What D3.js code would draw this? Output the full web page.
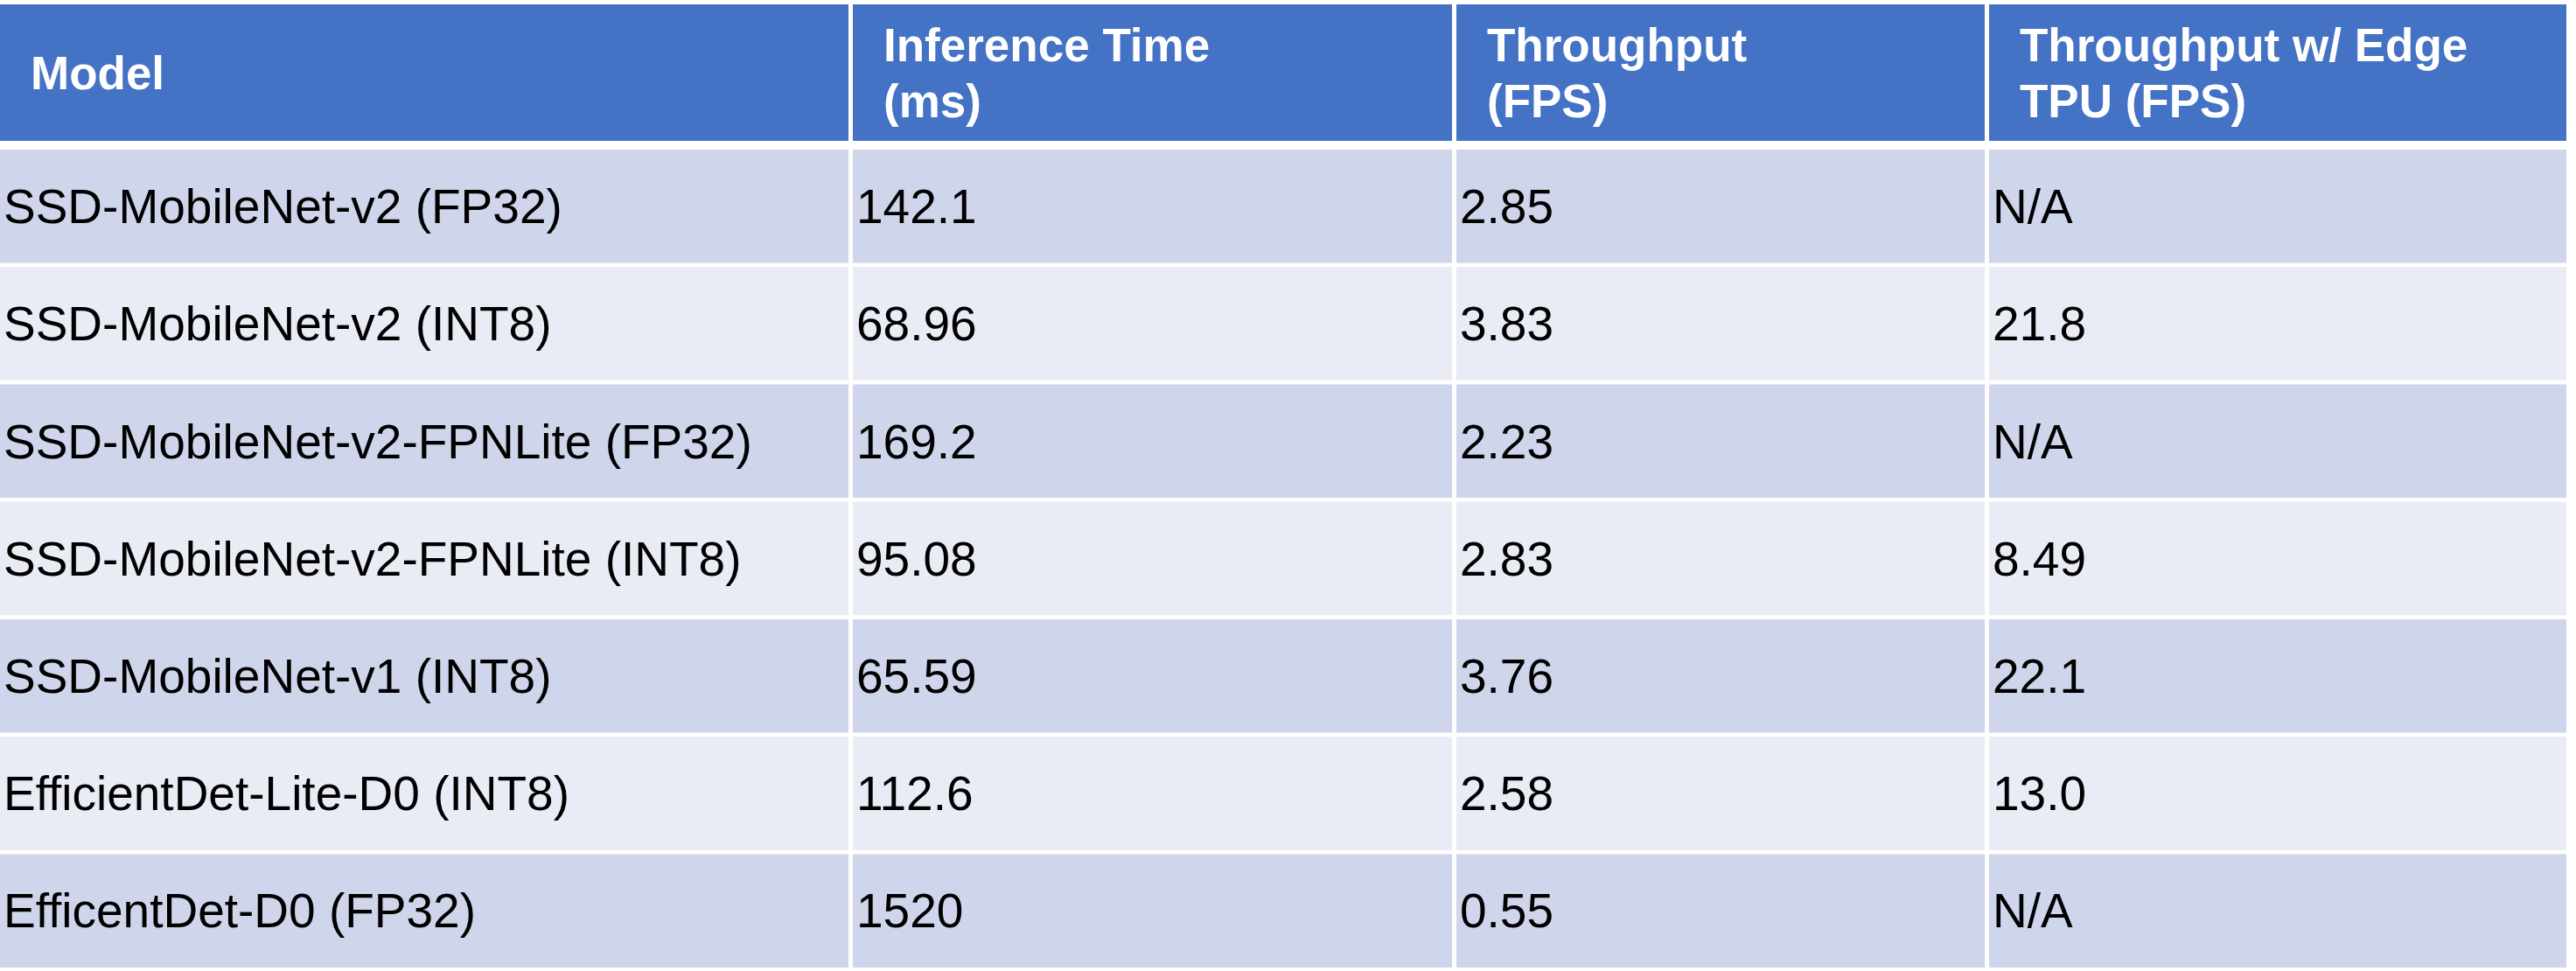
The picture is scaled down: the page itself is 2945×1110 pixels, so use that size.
<!DOCTYPE html>
<html><head><meta charset="utf-8">
<script src="https://cdn.jsdelivr.net/npm/d3@7"></script>
<style>body{margin:0;background:#fff}</style></head>
<body><svg id="c" width="2945" height="1110"></svg>
<script>
const headers = [["Model"], ["Inference Time", "(ms)"], ["Throughput", "(FPS)"], ["Throughput w/ Edge", "TPU (FPS)"]];
const models = ["SSD-MobileNet-v2 (FP32)", "SSD-MobileNet-v2 (INT8)", "SSD-MobileNet-v2-FPNLite (FP32)", "SSD-MobileNet-v2-FPNLite (INT8)", "SSD-MobileNet-v1 (INT8)", "EfficientDet-Lite-D0 (INT8)", "EfficentDet-D0 (FP32)"];
const inferenceTime = ["142.1", "68.96", "169.2", "95.08", "65.59", "112.6", "1520"];
const throughput = ["2.85", "3.83", "2.23", "2.83", "3.76", "2.58", "0.55"];
const throughputTPU = ["N/A", "21.8", "N/A", "8.49", "22.1", "13.0", "N/A"];

const colEdges = [[0, 970], [975, 1660], [1665, 2269], [2274, 2934]];
const svg = d3.select("#c");
const font = "'Liberation Sans', Arial, sans-serif";

// header
const hg = svg.append("g");
hg.selectAll("rect").data(headers).join("rect")
  .attr("x", (d, i) => colEdges[i][0]).attr("y", 5)
  .attr("width", (d, i) => colEdges[i][1] - colEdges[i][0]).attr("height", 156)
  .attr("fill", "#4472C4");
headers.forEach((h, i) => {
  const t = hg.append("text").attr("fill", "#fff").attr("font-family", font)
    .attr("font-weight", "bold").attr("font-size", 53);
  const y0 = h.length === 1 ? 102 : 70;
  h.forEach((line, j) => t.append("tspan").attr("x", colEdges[i][0] + 35).attr("y", y0 + j * 64).text(line));
});

// body
const rows = models.map((m, i) => [m, inferenceTime[i], throughput[i], throughputTPU[i]]);
const y = d3.scaleBand().domain(d3.range(rows.length)).range([171, 1106]).paddingInner(0.035).paddingOuter(0);
const rg = svg.selectAll("g.row").data(rows).join("g").attr("class", "row")
  .attr("transform", (d, i) => `translate(0,${y(i)})`);
rg.selectAll("rect").data((d, i) => d.map(v => ({ v, i }))).join("rect")
  .attr("x", (d, j) => colEdges[j][0]).attr("y", 0)
  .attr("width", (d, j) => colEdges[j][1] - colEdges[j][0]).attr("height", y.bandwidth())
  .attr("fill", d => d.i % 2 === 0 ? "#CFD5EA" : "#E9EBF5");
rg.selectAll("text").data(d => d).join("text")
  .attr("x", (d, j) => colEdges[j][0] + 4).attr("y", y.bandwidth() / 2)
  .attr("dy", "0.35em").attr("font-family", font).attr("font-size", 55).attr("fill", "#000")
  .text(d => d);
</script></body></html>
